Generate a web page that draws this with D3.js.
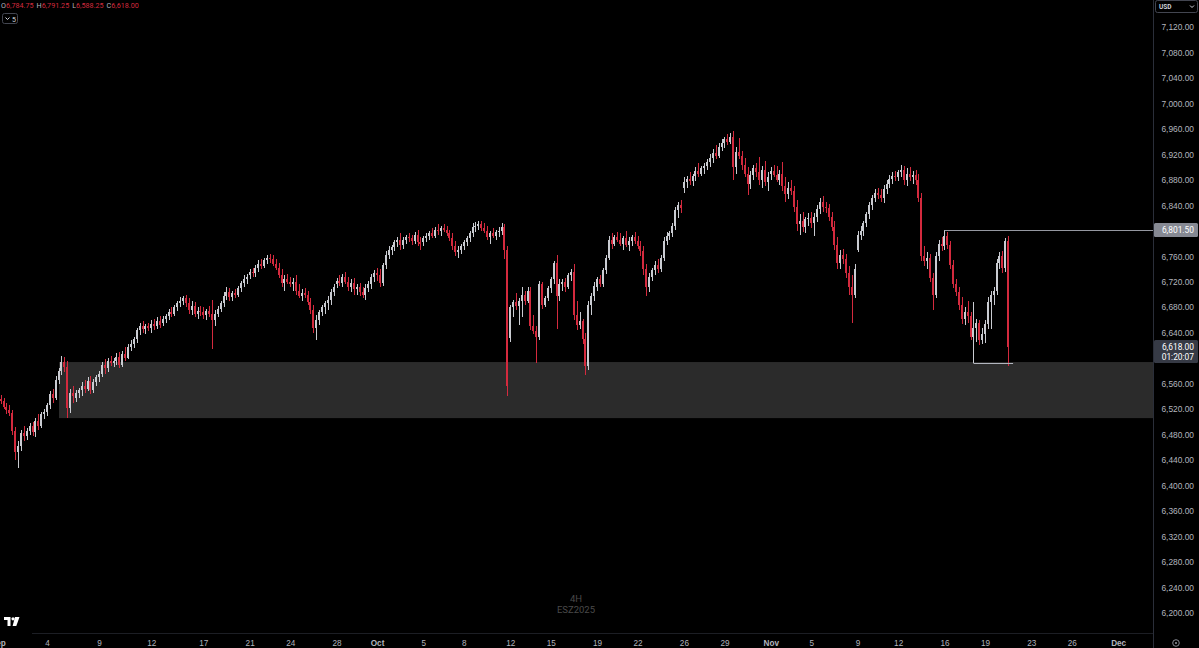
<!DOCTYPE html>
<html>
<head>
<meta charset="utf-8">
<script src="https://cdn.jsdelivr.net/npm/d3@7"></script>
<style>
  html, body { margin: 0; padding: 0; background: #000; overflow: hidden; }
  svg { display: block; font-family: Roboto, "Noto Sans", sans-serif; }
</style>
</head>
<body>
<div id="chart"></div>
<script>
// ESZ2025, 4H bars, Aug 31 18:00 -> Nov 20 10:00 (exchange time)
var opens = [
  6528,6532, 6530,6536,6533,6524,6518,                 // Aug 31, Sep 1
  6514,6486,6452,6462,6482,6478, 6486,6494,6484,6502,6494,6512,
  6516,6526,6544,6538,6566,6580, 6594,6586,6522,6546,
  6538,6546, 6550,6556,6552,6564,6550,6562, 6570,6576,6590,6584,6596,6592,
  6596,6602,6590,6606,6600,6618, 6622,6630,6644,6650,6646,6650, 6648,6654,6650,6658,
  6656,6662, 6666,6672,6670,6680,6686,6690, 6694,6686,6676,6682,6670,6674,
  6672,6668,6674,6670,6660,6670, 6678,6686,6698,6704,6696,6702, 6700,6710,6718,6724,
  6730,6736, 6734,6742,6748,6744,6754,6758, 6756,6748,6742,6730,6718,6724,
  6720,6716,6720,6706,6698,6702, 6700,6688,6676,6648,6660,6672, 6680,6686,6692,6704,
  6716,6722, 6718,6728,6720,6712,6718,6708, 6712,6704,6700,6710,6716,6728,
  6734,6730,6718,6746,6762,6770, 6774,6782,6786,6778,6786,6790, 6788,6784,6794,6782,
  6782,6788, 6792,6796,6792,6802,6800,6804, 6802,6796,6788,6776,6766,6770,
  6776,6782,6788,6796,6806,6808, 6810,6804,6800,6790,6796,6792, 6798,6800,6806,6770,
  6632,6680, 6688,6682,6690,6700,6690,6706, 6650,6642,6634,6716,6684,6694,
  6710,6724,6750,6698,6716,6720, 6712,6730,6736,6668,6652,6658, 6630,6588,6684,6698,
  6712,6724, 6716,6738,6758,6786,6780,6790, 6786,6780,6788,6778,6784,6790,
  6784,6776,6768,6740,6712,6728, 6738,6746,6740,6758,6784,6792, 6796,6808,6832,6840,
  6868,6876, 6882,6878,6886,6894,6890,6898, 6902,6908,6914,6922,6918,6932,
  6938,6944,6940,6948,6900,6924, 6918,6904,6890,6874,6888,6898, 6892,6880,6896,6876,
  6890,6894, 6888,6880,6890,6870,6858,6868, 6862,6838,6810,6816,6806,6818,
  6820,6812,6822,6834,6846,6838, 6836,6822,6806,6778,6750,6762, 6756,6734,6712,6700,
  6770,6794, 6800,6812,6826,6840,6852,6860, 6856,6852,6866,6874,6882,6886,
  6884,6892,6896,6880,6890,6884, 6888,6880,6852,6760,6752,6758, 6726,6700,6760,6780,
  6776,6792, 6778,6746,6716,6704,6684,6662, 6672,6666,6634,6648,6656,6628,
  6638,6654,6688,6700,6706,6750, 6760,6742,6784.75
];
var highs = [
  6535,6538, 6540,6542,6537,6530,6526,
  6518,6492,6470,6488,6494,6490, 6498,6500,6506,6512,6516,6520,
  6530,6548,6552,6572,6585,6604, 6602,6596,6552,6556,
  6550,6554, 6562,6566,6570,6572,6568,6574, 6580,6594,6598,6600,6604,6600,
  6608,6610,6612,6618,6622,6628, 6634,6648,6656,6658,6654,6656, 6660,6662,6664,6666,
  6666,6670, 6678,6680,6684,6690,6696,6698, 6700,6694,6690,6688,6680,6682,
  6680,6678,6682,6692,6676,6682, 6690,6704,6712,6710,6706,6708, 6714,6722,6730,6732,
  6740,6742, 6746,6754,6756,6758,6762,6764, 6762,6756,6750,6740,6730,6732,
  6728,6726,6730,6716,6708,6710, 6706,6694,6684,6668,6676,6684, 6690,6698,6708,6716,
  6726,6730, 6732,6736,6728,6724,6726,6716, 6718,6712,6716,6722,6732,6738,
  6742,6740,6750,6768,6776,6778, 6786,6790,6796,6790,6794,6796, 6794,6798,6802,6790,
  6792,6796, 6800,6804,6806,6810,6808,6810, 6808,6802,6796,6784,6776,6780,
  6786,6792,6800,6812,6814,6816, 6816,6812,6808,6800,6804,6802, 6806,6812,6810,6776,
  6684,6692, 6702,6694,6712,6706,6712,6712, 6668,6650,6722,6720,6698,6714,
  6728,6752,6762,6724,6724,6726, 6734,6740,6748,6690,6672,6662, 6640,6690,6702,6720,
  6728,6730, 6742,6762,6792,6796,6794,6798, 6796,6792,6800,6790,6794,6798,
  6792,6784,6776,6748,6734,6742, 6752,6756,6762,6790,6798,6800, 6812,6838,6846,6848,
  6884,6886, 6892,6890,6900,6906,6902,6906, 6912,6920,6928,6934,6938,6944,
  6948,6952,6954,6956,6932,6946, 6926,6914,6900,6894,6904,6906, 6916,6902,6910,6892,
  6900,6904, 6902,6896,6908,6884,6876,6880, 6870,6848,6826,6830,6822,6828,
  6830,6828,6840,6852,6854,6846, 6842,6830,6816,6790,6770,6772, 6764,6744,6730,6748,
  6800,6808, 6816,6830,6846,6856,6866,6868, 6866,6872,6880,6888,6892,6894,
  6896,6904,6902,6898,6900,6894, 6896,6890,6860,6776,6766,6764, 6734,6766,6786,6790,
  6801.5,6798, 6784,6754,6724,6712,6696,6680, 6690,6672,6688,6662,6660,6648,
  6660,6696,6706,6712,6756,6766, 6768,6788,6791.25
];
var lows = [
  6522,6526, 6525,6528,6520,6512,6510,
  6480,6440,6428,6455,6470,6472, 6480,6478,6476,6488,6490,6504,
  6510,6520,6530,6534,6560,6574, 6578,6506,6514,6530,
  6532,6538, 6540,6546,6548,6544,6546,6556, 6562,6570,6576,6578,6588,6586,
  6590,6584,6586,6596,6598,6612, 6616,6624,6636,6640,6638,6642, 6640,6644,6646,6648,
  6650,6656, 6660,6664,6666,6674,6680,6684, 6680,6670,6668,6664,6662,6666,
  6662,6660,6664,6614,6650,6664, 6672,6680,6692,6690,6690,6694, 6696,6704,6712,6716,
  6724,6728, 6728,6736,6740,6742,6748,6750, 6744,6738,6726,6712,6706,6716,
  6712,6706,6700,6694,6690,6694, 6684,6670,6640,6628,6652,6666, 6670,6676,6684,6698,
  6710,6714, 6712,6716,6706,6704,6700,6700, 6698,6694,6692,6704,6708,6720,
  6722,6712,6714,6740,6756,6762, 6768,6774,6770,6772,6780,6782, 6778,6780,6776,6770,
  6776,6782, 6786,6788,6788,6794,6792,6798, 6792,6784,6770,6760,6758,6764,
  6770,6776,6782,6790,6798,6802, 6800,6796,6786,6780,6788,6786, 6790,6794,6756,6540,
  6626,6664, 6676,6652,6664,6684,6686,6644, 6638,6592,6628,6678,6680,6690,
  6702,6716,6646,6690,6706,6704, 6708,6722,6660,6644,6646,6622, 6574,6582,6668,6690,
  6706,6712, 6712,6732,6754,6772,6776,6782, 6776,6770,6774,6768,6776,6780,
  6772,6760,6730,6698,6704,6722, 6730,6734,6736,6752,6778,6786, 6790,6802,6820,6828,
  6860,6868, 6872,6870,6878,6884,6886,6890, 6896,6900,6906,6912,6914,6926,
  6930,6934,6936,6880,6890,6912, 6896,6884,6856,6866,6880,6884, 6872,6868,6870,6862,
  6880,6884, 6876,6872,6862,6846,6850,6856, 6830,6800,6794,6798,6796,6808,
  6804,6792,6814,6826,6830,6828, 6816,6800,6770,6740,6740,6748, 6726,6700,6656,6694,
  6766,6786, 6792,6806,6818,6832,6846,6850, 6846,6844,6858,6868,6874,6878,
  6878,6884,6872,6870,6878,6874, 6872,6846,6752,6744,6740,6720, 6676,6694,6752,6768,
  6770,6772, 6740,6710,6698,6676,6654,6652, 6656,6628,6592,6626,6620,6622,
  6624,6646,6646,6684,6700,6740, 6734,6736,6588.25
];
var closes = [
  6532,6530, 6536,6533,6524,6518,6514,
  6486,6452,6462,6482,6478,6486, 6494,6484,6502,6494,6512,6516,
  6526,6544,6538,6566,6580,6594, 6586,6522,6546,6540,
  6546,6550, 6556,6552,6564,6550,6562,6570, 6576,6590,6584,6596,6592,6596,
  6602,6590,6606,6600,6618,6622, 6630,6644,6650,6646,6650,6648, 6654,6650,6658,6652,
  6662,6666, 6672,6670,6680,6686,6690,6694, 6686,6676,6682,6670,6674,6672,
  6668,6674,6670,6660,6670,6678, 6686,6698,6704,6696,6702,6700, 6710,6718,6724,6728,
  6736,6734, 6742,6748,6744,6754,6758,6756, 6748,6742,6730,6718,6724,6720,
  6716,6720,6706,6698,6702,6700, 6688,6676,6648,6660,6672,6680, 6686,6692,6704,6712,
  6722,6718, 6728,6720,6712,6718,6708,6712, 6704,6700,6710,6716,6728,6734,
  6730,6718,6746,6762,6770,6774, 6782,6786,6778,6786,6790,6788, 6784,6794,6782,6780,
  6788,6792, 6796,6792,6802,6800,6804,6802, 6796,6788,6776,6766,6770,6776,
  6782,6788,6796,6806,6808,6810, 6804,6800,6790,6796,6792,6798, 6800,6806,6770,6556,
  6680,6688, 6682,6690,6700,6690,6706,6650, 6642,6634,6716,6684,6694,6710,
  6724,6750,6698,6716,6720,6712, 6730,6736,6668,6652,6658,6630, 6588,6684,6698,6714,
  6724,6716, 6738,6758,6786,6780,6790,6786, 6780,6788,6778,6784,6790,6784,
  6776,6768,6740,6712,6728,6738, 6746,6740,6758,6784,6792,6796, 6808,6832,6840,6836,
  6876,6882, 6878,6886,6894,6890,6898,6902, 6908,6914,6922,6918,6932,6938,
  6944,6940,6948,6900,6924,6918, 6904,6890,6874,6888,6898,6892, 6880,6896,6876,6884,
  6894,6888, 6880,6890,6870,6858,6868,6862, 6838,6810,6816,6806,6818,6820,
  6812,6822,6834,6846,6838,6836, 6822,6806,6778,6750,6762,6756, 6734,6712,6700,6740,
  6794,6800, 6812,6826,6840,6852,6860,6856, 6852,6866,6874,6882,6886,6884,
  6892,6896,6880,6890,6884,6888, 6880,6852,6760,6752,6758,6726, 6700,6760,6780,6776,
  6792,6778, 6746,6716,6704,6684,6662,6672, 6666,6634,6648,6656,6628,6638,
  6654,6688,6700,6706,6750,6760, 6742,6784.75,6618
];

var priceTicks = [6200,6240,6280,6320,6360,6400,6440,6480,6520,6560,6600,6640,6680,6720,
                  6760,6800,6840,6880,6920,6960,7000,7040,7080,7120];
var tickDays   = ['2025-09-01','2025-09-04','2025-09-09','2025-09-12','2025-09-17','2025-09-21',
                  '2025-09-24','2025-09-28','2025-10-01','2025-10-05','2025-10-08','2025-10-12',
                  '2025-10-15','2025-10-19','2025-10-22','2025-10-26','2025-10-29','2025-11-02',
                  '2025-11-05','2025-11-09','2025-11-12','2025-11-16','2025-11-19','2025-11-23',
                  '2025-11-26','2025-12-01'];
var tickLabels = ['Sep','4','9','12','17','21','24','28','Oct','5','8','12','15','19','22','26','29',
                  'Nov','5','9','12','16','19','23','26','Dec'];

// drawings
var zoneTop = 6594, zoneBottom = 6506, zoneStartBar = 23;
var levelPrice = 6801.5, levelStartBar = 329;
var sweepPrice = 6592, sweepStartBar = 339, sweepEndBar = 352.7;
var lastPrice = 6618, countdown = '01:20:07';

var upColor = '#c9cbd1', downColor = '#d42a3e', textColor = '#b2b5be', lineColor = '#2a2e39';

////////////////////////////////////////////////////////////
//////////////////// Bar timeline //////////////////////////
////////////////////////////////////////////////////////////

var sessionHours = { 0: [18, 22], 1: [2,6,10,14,18,22], 2: [2,6,10,14,18,22], 3: [2,6,10,14,18,22],
                     4: [2,6,10,14,18,22], 5: [2,6,10,14], 6: [] };
var holidayHours = { '2025-09-01': [2,6,10,18,22], '2025-11-27': [2,6,10,18,22], '2025-11-28': [2,6,10] };
var dayKey = d3.utcFormat('%Y-%m-%d');

var barDays = [];
var day = new Date(Date.UTC(2025, 7, 31));
while (barDays.length < 410) {
  var k = dayKey(day);
  var hrs = holidayHours[k] || sessionHours[day.getUTCDay()];
  hrs.forEach(function() { barDays.push(k); });
  day = d3.utcDay.offset(day, 1);
}

var bars = closes.map(function(c, i) {
  return { i: i, o: opens[i], h: highs[i], l: lows[i], c: c };
});

////////////////////////////////////////////////////////////
////////////////////// Scales //////////////////////////////
////////////////////////////////////////////////////////////

var width = 1199, height = 648,
    plotRight = 1153, plotBottom = 633;

var x = d3.scaleLinear().domain([0, 400]).range([-8, 1150]);
var y = d3.scaleLinear().domain([6200, 7120]).range([613, 27]);

var svg = d3.select('#chart').append('svg')
  .attr('width', width)
  .attr('height', height)
  .style('background', '#000');

svg.append('clipPath').attr('id', 'plot')
  .append('rect').attr('x', 0).attr('y', 0).attr('width', plotRight).attr('height', plotBottom);

var plot = svg.append('g').attr('clip-path', 'url(#plot)');

////////////////////////////////////////////////////////////
/////////////////////// Drawings ///////////////////////////
////////////////////////////////////////////////////////////

plot.append('rect')
  .attr('x', Math.round(x(zoneStartBar)))
  .attr('y', y(zoneTop))
  .attr('width', plotRight - Math.round(x(zoneStartBar)))
  .attr('height', y(zoneBottom) - y(zoneTop))
  .attr('fill', '#2b2b2b');

////////////////////////////////////////////////////////////
/////////////////////// Candles ////////////////////////////
////////////////////////////////////////////////////////////

var candle = plot.selectAll('g.candle')
  .data(bars)
  .enter().append('g')
  .attr('class', 'candle')
  .attr('fill', function(d) { return d.c >= d.o ? upColor : downColor; })
  .attr('shape-rendering', 'crispEdges');

candle.append('rect')
  .attr('x', function(d) { return Math.round(x(d.i)); })
  .attr('width', 1)
  .attr('y', function(d) { return y(d.h); })
  .attr('height', function(d) { return Math.max(1, y(d.l) - y(d.h)); });

candle.append('rect')
  .attr('x', function(d) { return Math.round(x(d.i)) - 1; })
  .attr('width', 2)
  .attr('y', function(d) { return y(Math.max(d.o, d.c)); })
  .attr('height', function(d) { return Math.max(1, Math.abs(y(d.o) - y(d.c))); });

// horizontal level and swept low
plot.append('line')
  .attr('x1', x(levelStartBar)).attr('x2', plotRight)
  .attr('y1', Math.round(y(levelPrice)) + 0.5).attr('y2', Math.round(y(levelPrice)) + 0.5)
  .attr('stroke', '#9598a1').attr('stroke-width', 1);

plot.append('line')
  .attr('x1', Math.round(x(sweepStartBar)) + 0.5).attr('x2', x(sweepEndBar))
  .attr('y1', Math.round(y(sweepPrice)) + 0.5).attr('y2', Math.round(y(sweepPrice)) + 0.5)
  .attr('stroke', '#b2b5be').attr('stroke-width', 1);

////////////////////////////////////////////////////////////
/////////////////////// Axes ///////////////////////////////
////////////////////////////////////////////////////////////

svg.append('line')
  .attr('x1', plotRight + 0.5).attr('x2', plotRight + 0.5)
  .attr('y1', 0).attr('y2', height)
  .attr('stroke', lineColor);
svg.append('line')
  .attr('x1', 32).attr('x2', plotRight)
  .attr('y1', plotBottom + 0.5).attr('y2', plotBottom + 0.5)
  .attr('stroke', '#1c1e24');

var yAxis = svg.append('g')
  .attr('transform', 'translate(' + plotRight + ',0)')
  .call(d3.axisRight(y).tickValues(priceTicks).tickSize(0).tickFormat(d3.format(',.2f')));
yAxis.select('.domain').remove();
yAxis.selectAll('text')
  .attr('x', 41)
  .attr('text-anchor', 'end')
  .attr('fill', textColor)
  .style('font-size', '8.4px');

var tickIndex = tickDays.map(function(d) { return barDays.indexOf(d); });
var xAxis = svg.append('g')
  .attr('transform', 'translate(0,' + plotBottom + ')')
  .call(d3.axisBottom(x).tickValues(tickIndex).tickSize(0).tickPadding(7)
    .tickFormat(function(d, i) { return tickLabels[i]; }));
xAxis.select('.domain').remove();
xAxis.selectAll('text')
  .attr('fill', textColor)
  .style('font-size', '8.2px')
  .style('font-weight', function(d, i) { return isNaN(+tickLabels[i]) ? 600 : 400; });

// price labels on the scale
function scaleLabel(price, fill, lines) {
  var top = Math.round(y(price)) - 7;
  svg.append('rect')
    .attr('x', plotRight + 1).attr('y', top)
    .attr('width', width - plotRight - 2).attr('height', 14 + (lines.length - 1) * 9)
    .attr('rx', 1.5)
    .attr('fill', fill);
  lines.forEach(function(t, j) {
    svg.append('text')
      .attr('x', plotRight + 41).attr('y', top + 10 + j * 9.5)
      .attr('text-anchor', 'end')
      .attr('fill', '#ffffff')
      .style('font-size', '8.4px')
      .text(t);
  });
}
scaleLabel(levelPrice, '#868993', [d3.format(',.2f')(levelPrice)]);
scaleLabel(lastPrice, '#363a45', [d3.format(',.2f')(lastPrice), countdown]);

////////////////////////////////////////////////////////////
////////////////////// Chrome //////////////////////////////
////////////////////////////////////////////////////////////

var last = bars[bars.length - 1];
var legend = svg.append('text').attr('x', 1).attr('y', 8).style('font-size', '7.2px');
[['O', last.o], ['H', last.h], ['L', last.l], ['C', last.c]].forEach(function(p, j) {
  legend.append('tspan').attr('fill', '#b2b5be').attr('dx', j ? 3 : 0).text(p[0]);
  legend.append('tspan').attr('fill', downColor).text(d3.format(',.2f')(p[1]));
});

svg.append('rect').attr('x', 2.5).attr('y', 13.5).attr('width', 15).attr('height', 10).attr('rx', 2)
  .attr('fill', 'none').attr('stroke', '#434651');
svg.append('path').attr('d', 'M5.5 17.5 L7.5 19.5 L9.5 17.5').attr('fill', 'none').attr('stroke', '#d1d4dc');
svg.append('text').attr('x', 12).attr('y', 21.5).attr('fill', '#d1d4dc').style('font-size', '7px').text('5');

svg.append('rect').attr('x', 1155.5).attr('y', 0.5).attr('width', 42).attr('height', 12).attr('rx', 2)
  .attr('fill', '#000').attr('stroke', '#434651');
svg.append('text').attr('x', 1159).attr('y', 9).attr('fill', '#d1d4dc')
  .style('font-size', '6.5px').style('font-weight', 700).text('USD');
svg.append('path').attr('d', 'M1190 5.5 L1192 7.5 L1194 5.5').attr('fill', 'none').attr('stroke', '#d1d4dc');

// watermark
svg.append('text').attr('x', 576).attr('y', 602).attr('text-anchor', 'middle')
  .attr('fill', '#4a4a4a').style('font-size', '9.5px').text('4H');
svg.append('text').attr('x', 576).attr('y', 613).attr('text-anchor', 'middle')
  .attr('fill', '#4a4a4a').style('font-size', '9.5px').text('ESZ2025');

// tv logo
var logo = svg.append('g').attr('fill', '#ffffff');
logo.append('path').attr('d', 'M4 617 H10.5 V626 H7.5 V620 H4 Z');
logo.append('circle').attr('cx', 13).attr('cy', 618.8).attr('r', 1.6);
logo.append('path').attr('d', 'M15 617 H19.5 L16.3 626 H12.6 Z');

// settings icon
svg.append('circle').attr('cx', 1176).attr('cy', 643).attr('r', 3.3)
  .attr('fill', 'none').attr('stroke', '#9598a1').attr('stroke-width', 0.9);
svg.append('circle').attr('cx', 1176).attr('cy', 643).attr('r', 1)
  .attr('fill', '#9598a1');
</script>
</body>
</html>
